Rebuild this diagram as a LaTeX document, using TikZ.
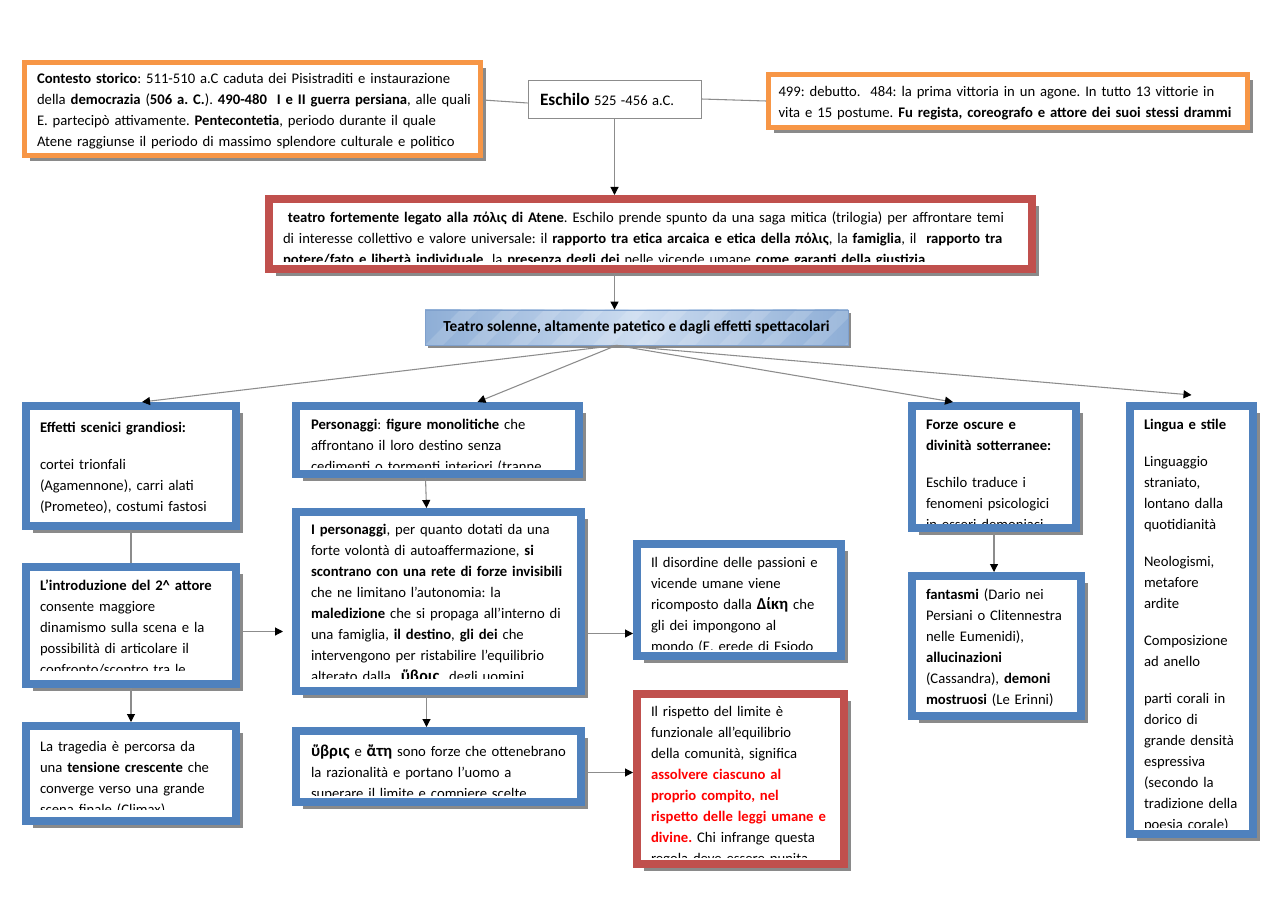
\documentclass[tikz,border=0pt]{standalone}
\usepackage{fontspec}
\setmainfont{Carlito}
\usetikzlibrary{arrows.meta,shadows}
\frenchspacing

\newdimen\upx \upx=0.75pt
\definecolor{accblue}{HTML}{4F81BD}
\definecolor{accred}{HTML}{C0504D}
\definecolor{accorange}{HTML}{F79646}
\definecolor{linegray}{HTML}{8C8C8C}
\definecolor{shadowgray}{HTML}{8A8A8A}
\definecolor{bannerdark}{HTML}{8EAED6}
\definecolor{bannerlight}{HTML}{CCDCF0}
\definecolor{bannerline}{HTML}{7FA0CC}
\newcommand{\bodyfont}{\fontsize{11pt}{15.75pt}\selectfont}
\newcommand{\grk}[1]{\textbf{\fontsize{12.5pt}{15.75pt}\selectfont #1}}

\tikzset{
  frame/.style={rectangle, fill=white, inner sep=0pt},
  bluebox/.style={frame, draw=accblue, line width=8\upx,
    drop shadow={shadow xshift=7\upx, shadow yshift=-7\upx, fill=shadowgray, opacity=1}},
  redbox/.style={bluebox, draw=accred},
  orangebox/.style={frame, draw=accorange, line width=5\upx,
    drop shadow={shadow xshift=5.5\upx, shadow yshift=-5.5\upx, fill=shadowgray, opacity=1}},
  textpos/.style={},
  cliplift/.initial=7,
  boxtext/.style={anchor=north west, outer sep=0pt, inner xsep=14\upx, inner ysep=7.5\upx,
    text width=760\upx, align=left, font=\bodyfont, execute at begin node=\strut, textpos},
  boxbody/.style={path picture={
      \clip (path picture bounding box.north west) rectangle
        ([yshift=\pgfkeysvalueof{/tikz/cliplift}\upx]path picture bounding box.south east);
      \node[boxtext] at (path picture bounding box.north west) {#1};}},
  namebox/.style={rectangle, draw=linegray, line width=0.6pt, fill=white},
  banner/.style={rectangle, draw=bannerline, line width=0.6pt, left color=bannerdark,
    right color=bannerdark, middle color=bannerlight, font=\fontsize{11.5pt}{14pt}\selectfont\bfseries,
    drop shadow={shadow xshift=3\upx, shadow yshift=-3\upx, fill=shadowgray, opacity=1},
    path picture={\foreach \k in {0,...,10}
      \fill[white, opacity=0.14] ([xshift=\k*42\upx]path picture bounding box.south west)
        -- ++(18,0) -- ++(36,-36) -- ++(-18,0) -- cycle;}},
  link/.style={draw=linegray, line width=0.8pt},
  arr/.style={link, -{Triangle[length=6pt, width=6pt, color=black, fill=black]}},
}

\begin{document}
\begin{tikzpicture}[x=0.75pt, y=-0.75pt]
  \path[use as bounding box, fill=white] (0,0) rectangle (1280,905);

  % top row
  \node[orangebox, minimum width=456\upx, minimum height=93\upx,
    textpos/.style={inner xsep=12.5\upx, inner ysep=4.5\upx}, boxbody={%
        \textbf{Contesto storico}: 511-510 a.C caduta dei Pisistraditi e instaurazione\\
        della \textbf{democrazia} (\textbf{506 a. C.}). \textbf{490-480~ I e II guerra persiana}, alle quali\\
        E. partecipò attivamente. \textbf{Pentecontetia}, periodo durante il quale\\
        Atene raggiunse il periodo di massimo splendore culturale e politico}] (contesto) at (252.5,109) {};
  \node[namebox, minimum width=173\upx, minimum height=38\upx, text width=149\upx, inner xsep=12\upx, align=left]
    (eschilo) at (614.5,99) {\textbf{\fontsize{13pt}{15pt}\selectfont Eschilo} {\fontsize{11pt}{13pt}\selectfont 525 -456 a.C.}};
  \node[orangebox, minimum width=479\upx, minimum height=53\upx,
    textpos/.style={inner xsep=10\upx, inner ysep=3.5\upx}, boxbody={%
        499: debutto.~ 484: la prima vittoria in un agone. In tutto 13 vittorie in\\
        vita e 15 postume. \textbf{Fu regista, coreografo e attore dei suoi stessi drammi}}] (vittorie) at (1008,101) {};

  \node[redbox, minimum width=763\upx, minimum height=70\upx,
    textpos/.style={inner ysep=9\upx}, boxbody={%
        \ \textbf{teatro fortemente legato alla πόλις di Atene}. Eschilo prende spunto da una saga mitica (trilogia) per affrontare temi\\
        di interesse collettivo e valore universale: il \textbf{rapporto tra etica arcaica e etica della πόλις}, la \textbf{famiglia}, il~ \textbf{rapporto tra}\\
        \textbf{potere/fato e libertà individuale}, la \textbf{presenza degli dei} nelle vicende umane \textbf{come garanti della giustizia}}] (redtop) at (650.5,234) {};

  \node[banner, minimum width=423\upx, minimum height=35\upx] (banner) at (636.5,327.5)
    {Teatro solenne, altamente patetico e dagli effetti spettacolari};

  % left column
  \node[bluebox, minimum width=210\upx, minimum height=120\upx,
    textpos/.style={inner ysep=5\upx}, boxbody={%
        \textbf{Effetti scenici grandiosi:}\\[12pt]
        cortei trionfali\\
        (Agamennone), carri alati\\
        (Prometeo), costumi fastosi}] (effetti) at (131,466) {};
  \node[bluebox, minimum width=210\upx, minimum height=117\upx, cliplift=14,
    textpos/.style={inner ysep=8\upx}, boxbody={%
        \textbf{L’introduzione del 2\^{} attore}\\
        consente maggiore\\
        dinamismo sulla scena e la\\
        possibilità di articolare il\\
        confronto/scontro tra le}] (intro) at (131,625.5) {};
  \node[bluebox, minimum width=210\upx, minimum height=95\upx, cliplift=12,
    textpos/.style={inner ysep=11\upx}, boxbody={%
        La tragedia è percorsa da\\
        una \textbf{tensione crescente} che\\
        converge verso una grande\\
        scena finale (Climax)}] (tragedia) at (131,773.5) {};

  % middle column
  \node[bluebox, minimum width=283\upx, minimum height=68\upx,
    textpos/.style={inner xsep=15\upx, inner ysep=8.5\upx}, boxbody={%
        \textbf{Personaggi}: \textbf{figure monolitiche} che\\
        affrontano il loro destino senza\\
        cedimenti o tormenti interiori (tranne}] (pers) at (437.5,440) {};
  \node[bluebox, minimum width=285\upx, minimum height=179\upx, cliplift=13,
    textpos/.style={inner xsep=15\upx}, boxbody={%
        \textbf{I personaggi}, per quanto dotati da una\\
        forte volontà di autoaffermazione, \textbf{si}\\
        \textbf{scontrano con una rete di forze invisibili}\\
        che ne limitano l’autonomia: la\\
        \textbf{maledizione} che si propaga all’interno di\\
        una famiglia, \textbf{il destino}, \textbf{gli dei} che\\
        intervengono per ristabilire l’equilibrio\\
        alterato dalla~ \grk{ὕβρις}~ degli uomini}] (ipers) at (438.5,601.5) {};
  \node[bluebox, minimum width=285\upx, minimum height=71\upx,
    textpos/.style={inner xsep=15\upx, inner ysep=11\upx}, boxbody={%
        \grk{ὕβρις} e \grk{ἄτη} sono forze che ottenebrano\\
        la razionalità e portano l’uomo a\\
        superare il limite e compiere scelte}] (hybris) at (438.5,766.5) {};

  \node[bluebox, minimum width=204\upx, minimum height=112\upx,
    textpos/.style={inner ysep=9\upx}, boxbody={%
        Il disordine delle passioni e\\
        vicende umane viene\\
        ricomposto dalla \grk{Δίκη} che\\
        gli dei impongono al\\
        mondo (E. erede di Esiodo}] (disord) at (739,600) {};
  \node[redbox, minimum width=207\upx, minimum height=170\upx, boxbody={%
        Il rispetto del limite è\\
        funzionale all’equilibrio\\
        della comunità, significa\\
        \textcolor{red}{\textbf{assolvere ciascuno al}}\\
        \textcolor{red}{\textbf{proprio compito, nel}}\\
        \textcolor{red}{\textbf{rispetto delle leggi umane e}}\\
        \textcolor{red}{\textbf{divine.}} Chi infrange questa\\
        regola deve essere punita}] (rispetto) at (740.5,779) {};

  % right columns
  \node[bluebox, minimum width=164\upx, minimum height=122\upx, cliplift=5,
    textpos/.style={inner ysep=8.5\upx}, boxbody={%
        \textbf{Forze oscure e}\\
        \textbf{divinità sotterranee:}\\[12pt]
        Eschilo traduce i\\
        fenomeni psicologici\\
        in esseri demoniaci}] (forze) at (994,467) {};
  \node[bluebox, minimum width=169\upx, minimum height=140\upx,
    textpos/.style={inner ysep=5.5\upx}, boxbody={%
        \textbf{fantasmi} (Dario nei\\
        Persiani o Clitennestra\\
        nelle Eumenidi),\\
        \textbf{allucinazioni}\\
        (Cassandra), \textbf{demoni}\\
        \textbf{mostruosi} (Le Erinni)}] (fantasmi) at (996.5,646) {};
  \node[bluebox, minimum width=123\upx, minimum height=428\upx,
    textpos/.style={inner ysep=8.5\upx}, boxbody={%
        \textbf{Lingua e stile}\\[12pt]
        Linguaggio\\
        straniato,\\
        lontano dalla\\
        quotidianità\\[12pt]
        Neologismi,\\
        metafore\\
        ardite\\[12pt]
        Composizione\\
        ad anello\\[12pt]
        parti corali in\\
        dorico di\\
        grande densità\\
        espressiva\\
        (secondo la\\
        tradizione della\\
        poesia corale)}] (lingua) at (1191.5,620) {};

  % connectors
  \draw[link] ([yshift=9\upx]contesto.east) -- ([yshift=-4\upx]eschilo.west);
  \draw[link] (eschilo.east) -- (vittorie.west);
  \draw[arr] (eschilo.south) -- (eschilo.south |- redtop.north);
  \draw[arr] (redtop.south -| eschilo.south) -- (banner.north -| eschilo.south);

  \coordinate (fan) at ([xshift=-20\upx]banner.south);
  \draw[arr] (fan) -- ([xshift=11\upx]effetti.north);
  \draw[arr] (fan) -- ([xshift=40\upx]pers.north);
  \draw[arr] (fan) -- ([xshift=-41\upx]forze.north);
  \draw[arr] (fan) -- ([yshift=7\upx]lingua.north);

  \draw[link] (effetti.south) -- (intro.north);
  \draw[arr] (intro.south) -- (tragedia.north);
  \draw[arr, shorten >=9\upx] ([yshift=-6\upx]intro.east) -- ([yshift=-6\upx]intro.east -| ipers.west);
  \draw[arr] ([xshift=-12\upx]pers.south) -- ([xshift=-12\upx]ipers.north);
  \draw[arr] ([xshift=-12\upx]ipers.south) -- ([xshift=-12\upx]hybris.north);
  \draw[arr] ([yshift=-32\upx]ipers.east) -- ([yshift=-32\upx]ipers.east -| disord.west);
  \draw[arr] ([yshift=-6\upx]hybris.east) -- ([yshift=-6\upx]hybris.east -| rispetto.west);
  \draw[arr] (forze.south) -- (forze.south |- fantasmi.north);
\end{tikzpicture}
\end{document}
